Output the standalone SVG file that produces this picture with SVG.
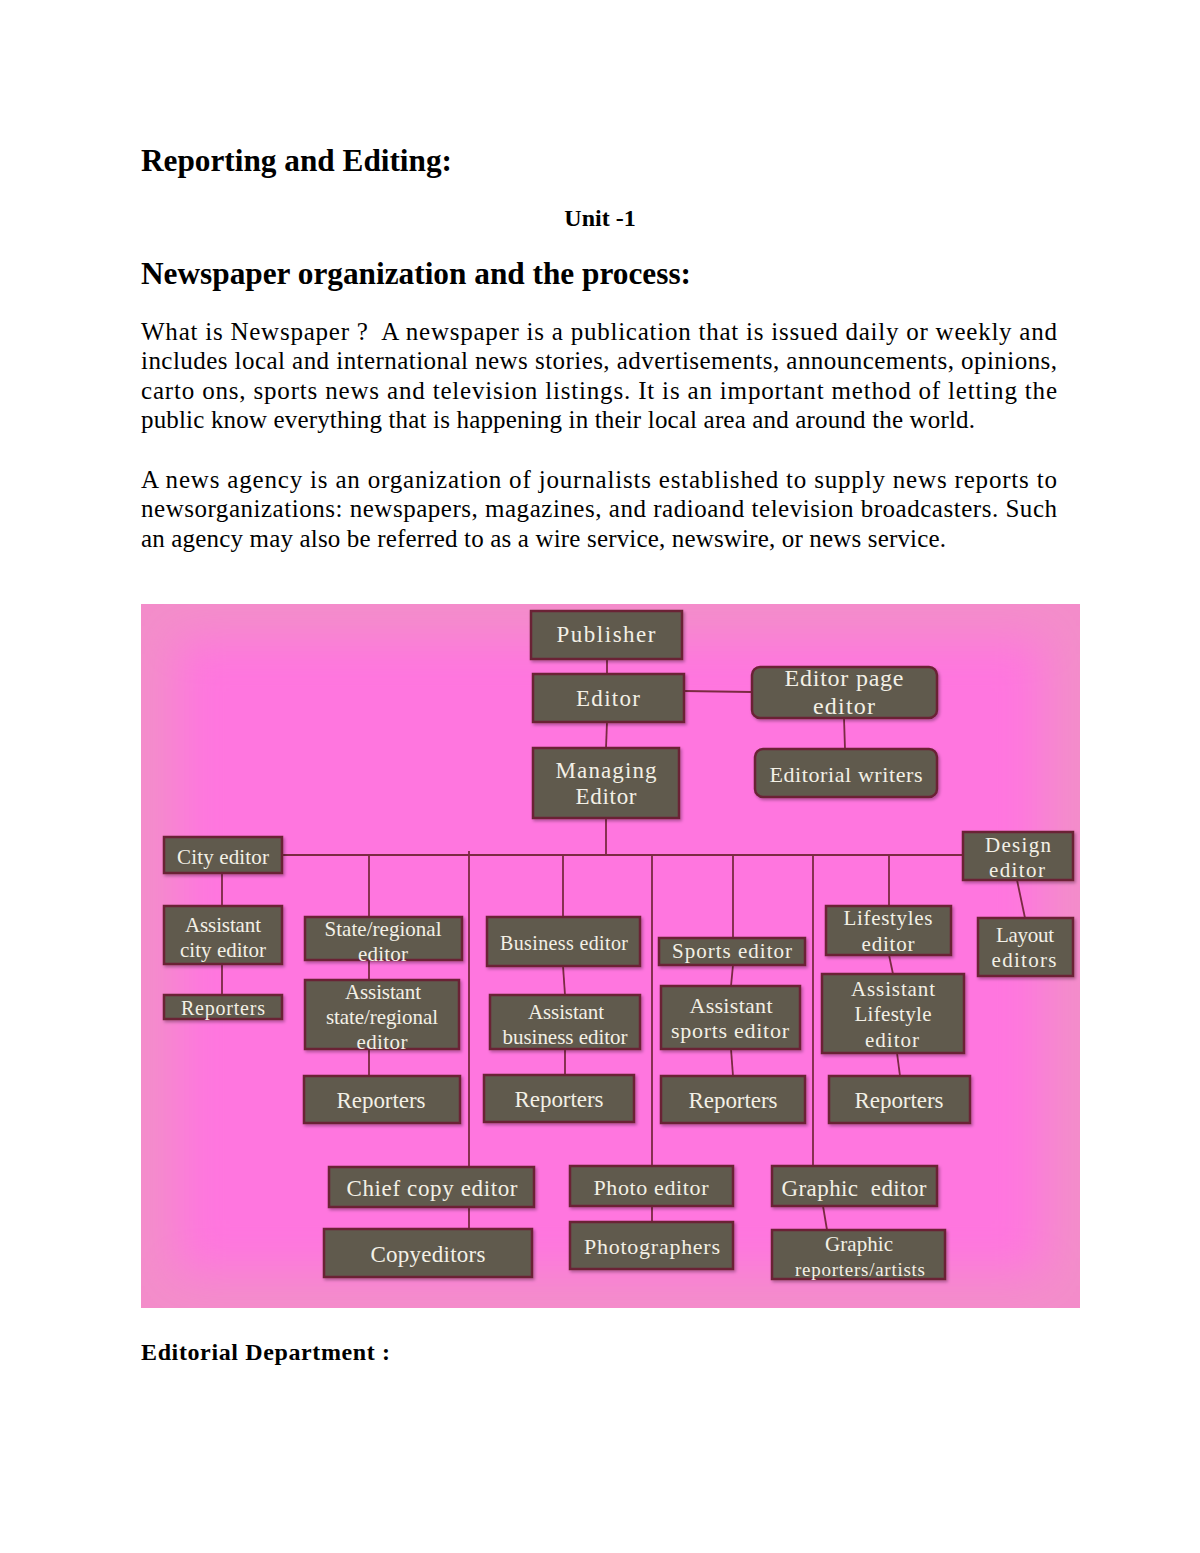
<svg xmlns="http://www.w3.org/2000/svg" width="1200" height="1553" viewBox="0 0 1200 1553">
<defs>
<style>
.h{font-family:"Liberation Serif",serif;font-weight:bold;fill:#000}
.p{font-family:"Liberation Serif",serif;font-size:25px;fill:#000}
.box{fill:#615A4E;stroke:#6B2236;stroke-width:2.5;filter:url(#sh)}
.lbl{font-family:"Liberation Serif",serif;fill:#F3F0E6;text-anchor:middle}
.conn line{stroke:#7B2A42;stroke-width:1.8}
</style>
<filter id="blur" x="-20%" y="-20%" width="140%" height="140%"><feGaussianBlur stdDeviation="22"/></filter>
<filter id="sh" x="-10%" y="-10%" width="130%" height="140%"><feDropShadow dx="1.5" dy="2" stdDeviation="1.5" flood-color="#000" flood-opacity="0.3"/></filter>
<clipPath id="bgclip"><rect x="141" y="604" width="939" height="704"/></clipPath>
</defs>
<rect width="1200" height="1553" fill="#fff"/>

<g id="text">
<text class="h" x="141" y="171" font-size="31" textLength="311" lengthAdjust="spacingAndGlyphs">Reporting and Editing:</text>
<text class="h" x="600" y="226" font-size="24" text-anchor="middle">Unit -1</text>
<text class="h" x="141" y="284" font-size="31" textLength="550" lengthAdjust="spacingAndGlyphs">Newspaper organization and the process:</text>
<text class="p" x="141" y="340" textLength="916" lengthAdjust="spacing" xml:space="preserve">What is Newspaper ?  A newspaper is a publication that is issued daily or weekly and</text>
<text class="p" x="141" y="369" textLength="916" lengthAdjust="spacing">includes local and international news stories, advertisements, announcements, opinions,</text>
<text class="p" x="141" y="399" textLength="916" lengthAdjust="spacing">carto ons, sports news and television listings. It is an important method of letting the</text>
<text class="p" x="141" y="428" textLength="834" lengthAdjust="spacing">public know everything that is happening in their local area and around the world.</text>
<text class="p" x="141" y="488" textLength="916" lengthAdjust="spacing">A news agency is an organization of journalists established to supply news reports to</text>
<text class="p" x="141" y="517" textLength="916" lengthAdjust="spacing">newsorganizations: newspapers, magazines, and radioand television broadcasters. Such</text>
<text class="p" x="141" y="547" textLength="805" lengthAdjust="spacing">an agency may also be referred to as a wire service, newswire, or news service.</text>
<text class="h" x="141" y="1360" font-size="24" textLength="249" lengthAdjust="spacing">Editorial Department :</text>
</g>

<g id="background" clip-path="url(#bgclip)">
<rect x="141" y="604" width="939" height="704" fill="#F38DCA"/>
<rect x="178" y="640" width="865" height="632" fill="#FF76DF" filter="url(#blur)"/>
</g>

<g class="conn" id="connectors">
<line x1="607" y1="659" x2="607" y2="674"/>
<line x1="607" y1="722" x2="606" y2="748"/>
<line x1="684" y1="691" x2="752" y2="692"/>
<line x1="844" y1="718" x2="845" y2="749"/>
<line x1="606" y1="818" x2="606" y2="855"/>
<line x1="282" y1="855" x2="963" y2="855"/>
<line x1="369" y1="855" x2="369" y2="917"/>
<line x1="469" y1="851" x2="469" y2="1167"/>
<line x1="563" y1="855" x2="563" y2="930"/>
<line x1="652" y1="855" x2="652" y2="1166"/>
<line x1="733" y1="855" x2="733" y2="938"/>
<line x1="813" y1="855" x2="813" y2="1166"/>
<line x1="889" y1="855" x2="889" y2="906"/>
<line x1="222" y1="873" x2="222" y2="906"/>
<line x1="222" y1="964" x2="222" y2="995"/>
<line x1="369" y1="960" x2="369" y2="980"/>
<line x1="369" y1="1049" x2="369" y2="1076"/>
<line x1="563" y1="966" x2="565" y2="995"/>
<line x1="565" y1="1049" x2="565" y2="1075"/>
<line x1="733" y1="965" x2="731" y2="986"/>
<line x1="731" y1="1049" x2="733" y2="1076"/>
<line x1="889" y1="955" x2="893" y2="974"/>
<line x1="897" y1="1053" x2="900" y2="1076"/>
<line x1="1017" y1="880" x2="1025" y2="918"/>
<line x1="469" y1="1207" x2="469" y2="1229"/>
<line x1="652" y1="1206" x2="652" y2="1222"/>
<line x1="823" y1="1206" x2="827" y2="1230"/>
</g>

<g id="publisher"><rect class="box" x="531" y="611" width="151" height="48"/><text class="lbl" x="606" y="642" font-size="23" textLength="99">Publisher</text></g>
<g id="editor"><rect class="box" x="533" y="674" width="151" height="48"/><text class="lbl" x="608" y="706" font-size="23" textLength="64">Editor</text></g>
<g id="editor-page-editor"><rect class="box" x="752" y="667" width="185" height="51" rx="8"/><text class="lbl" x="844" y="686" font-size="24" textLength="119">Editor page</text><text class="lbl" x="844" y="714" font-size="24" textLength="62">editor</text></g>
<g id="editorial-writers"><rect class="box" x="755" y="749" width="182" height="48" rx="8"/><text class="lbl" x="846" y="782" font-size="22" textLength="153">Editorial writers</text></g>
<g id="managing-editor"><rect class="box" x="533" y="748" width="146" height="70"/><text class="lbl" x="606" y="778" font-size="23" textLength="101">Managing</text><text class="lbl" x="606" y="804" font-size="23" textLength="61">Editor</text></g>
<g id="city-editor"><rect class="box" x="164" y="837" width="118" height="36"/><text class="lbl" x="223" y="864" font-size="21" textLength="92">City editor</text></g>
<g id="design-editor"><rect class="box" x="963" y="832" width="110" height="48"/><text class="lbl" x="1018" y="852" font-size="21" textLength="66">Design</text><text class="lbl" x="1017" y="877" font-size="21" textLength="56">editor</text></g>
<g id="assistant-city-editor"><rect class="box" x="164" y="906" width="118" height="58"/><text class="lbl" x="223" y="932" font-size="21" textLength="76">Assistant</text><text class="lbl" x="223" y="957" font-size="21" textLength="86">city editor</text></g>
<g id="city-reporters"><rect class="box" x="164" y="995" width="118" height="24"/><text class="lbl" x="223" y="1015" font-size="20" textLength="84">Reporters</text></g>
<g id="state-regional-editor"><rect class="box" x="305" y="917" width="157" height="43"/><text class="lbl" x="383" y="936" font-size="21" textLength="117">State/regional</text><text class="lbl" x="383" y="961" font-size="21" textLength="50">editor</text></g>
<g id="assistant-state-regional-editor"><rect class="box" x="305" y="980" width="154" height="69"/><text class="lbl" x="383" y="999" font-size="21" textLength="76">Assistant</text><text class="lbl" x="382" y="1024" font-size="21" textLength="112">state/regional</text><text class="lbl" x="382" y="1049" font-size="21" textLength="51">editor</text></g>
<g id="state-reporters"><rect class="box" x="304" y="1076" width="156" height="47"/><text class="lbl" x="381" y="1108" font-size="23" textLength="89">Reporters</text></g>
<g id="business-editor"><rect class="box" x="487" y="917" width="153" height="49"/><text class="lbl" x="564" y="950" font-size="20" textLength="128">Business editor</text></g>
<g id="assistant-business-editor"><rect class="box" x="490" y="995" width="150" height="54"/><text class="lbl" x="566" y="1019" font-size="21" textLength="76">Assistant</text><text class="lbl" x="565" y="1044" font-size="21" textLength="125">business editor</text></g>
<g id="business-reporters"><rect class="box" x="484" y="1075" width="150" height="47"/><text class="lbl" x="559" y="1107" font-size="23" textLength="89">Reporters</text></g>
<g id="sports-editor"><rect class="box" x="659" y="938" width="146" height="27"/><text class="lbl" x="732" y="958" font-size="21" textLength="120">Sports editor</text></g>
<g id="assistant-sports-editor"><rect class="box" x="661" y="986" width="139" height="63"/><text class="lbl" x="731" y="1013" font-size="22" textLength="83">Assistant</text><text class="lbl" x="730" y="1038" font-size="22" textLength="118">sports editor</text></g>
<g id="sports-reporters"><rect class="box" x="661" y="1076" width="144" height="47"/><text class="lbl" x="733" y="1108" font-size="23" textLength="89">Reporters</text></g>
<g id="lifestyles-editor"><rect class="box" x="826" y="906" width="125" height="49"/><text class="lbl" x="888" y="925" font-size="21" textLength="89">Lifestyles</text><text class="lbl" x="888" y="951" font-size="21" textLength="53">editor</text></g>
<g id="assistant-lifestyle-editor"><rect class="box" x="822" y="974" width="142" height="79"/><text class="lbl" x="893" y="996" font-size="21" textLength="84">Assistant</text><text class="lbl" x="893" y="1021" font-size="21" textLength="77">Lifestyle</text><text class="lbl" x="892" y="1047" font-size="21" textLength="54">editor</text></g>
<g id="lifestyle-reporters"><rect class="box" x="829" y="1076" width="141" height="47"/><text class="lbl" x="899" y="1108" font-size="23" textLength="89">Reporters</text></g>
<g id="layout-editors"><rect class="box" x="978" y="918" width="95" height="58"/><text class="lbl" x="1025" y="942" font-size="21" textLength="58">Layout</text><text class="lbl" x="1024" y="967" font-size="21" textLength="65">editors</text></g>
<g id="chief-copy-editor"><rect class="box" x="329" y="1167" width="205" height="40"/><text class="lbl" x="432" y="1196" font-size="23" textLength="171">Chief copy editor</text></g>
<g id="copyeditors"><rect class="box" x="324" y="1229" width="208" height="48"/><text class="lbl" x="428" y="1262" font-size="23" textLength="115">Copyeditors</text></g>
<g id="photo-editor"><rect class="box" x="570" y="1166" width="163" height="40"/><text class="lbl" x="651" y="1195" font-size="22" textLength="115">Photo editor</text></g>
<g id="photographers"><rect class="box" x="570" y="1222" width="163" height="47"/><text class="lbl" x="652" y="1254" font-size="22" textLength="136">Photographers</text></g>
<g id="graphic-editor"><rect class="box" x="772" y="1166" width="165" height="40"/><text class="lbl" x="854" y="1196" font-size="23" textLength="145" xml:space="preserve">Graphic  editor</text></g>
<g id="graphic-reporters-artists"><rect class="box" x="772" y="1230" width="173" height="49"/><text class="lbl" x="859" y="1251" font-size="21" textLength="68">Graphic</text><text class="lbl" x="860" y="1276" font-size="19" textLength="130">reporters/artists</text></g>
</svg>
